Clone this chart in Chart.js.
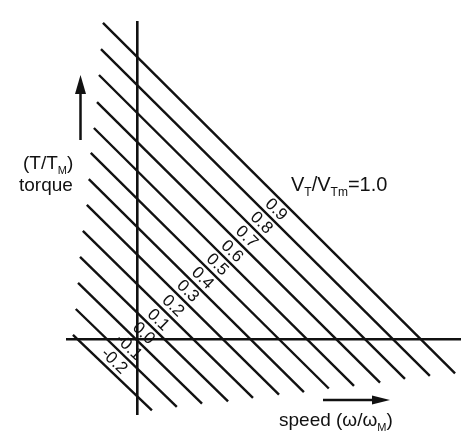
<!DOCTYPE html>
<html><head><meta charset="utf-8">
<script src="https://cdn.jsdelivr.net/npm/chart.js@4.4.0/dist/chart.umd.min.js"></script>
<style>html,body{margin:0;padding:0;background:#fff;}#wrap{width:474px;height:440px;}</style>
</head><body><div id="wrap"><canvas id="c" width="474" height="440"></canvas></div>
<script>
// Armature voltage ratio for each torque-speed line
const lineValues = [1.0, 0.9, 0.8, 0.7, 0.6, 0.5, 0.4, 0.3, 0.2, 0.1, 0.0, -0.1, -0.2];
const lineLabels = ["1.0", "0.9", "0.8", "0.7", "0.6", "0.5", "0.4", "0.3", "0.2", "0.1", "0.0", "-0.1", "-0.2"];
// Endpoints of each line (speed ω/ωM, torque T/TM)
const speedStart  = [-0.120, -0.127, -0.134, -0.141, -0.152, -0.163, -0.170, -0.177, -0.191, -0.201, -0.208, -0.216, -0.226];
const torqueStart = [1.121, 1.028, 0.936, 0.840, 0.748, 0.660, 0.567, 0.475, 0.383, 0.291, 0.199, 0.106, 0.014];
const speedEnd    = [1.124, 1.035, 0.947, 0.859, 0.767, 0.678, 0.590, 0.502, 0.410, 0.322, 0.230, 0.141, 0.053];
const torqueEnd   = [-0.122, -0.131, -0.142, -0.155, -0.167, -0.176, -0.189, -0.198, -0.209, -0.222, -0.230, -0.241, -0.254];
// Axis ranges
const speedRange = [-0.247, 1.145];
const torqueRange = [-0.270, 1.124];

const INK = '#111';
const FONT = "'Liberation Sans', Arial, Helvetica, sans-serif";

const datasets = lineValues.map((v, i) => ({
  label: lineLabels[i],
  data: [{x: speedStart[i], y: torqueStart[i]}, {x: speedEnd[i], y: torqueEnd[i]}],
  showLine: true,
  borderColor: INK,
  backgroundColor: INK,
  borderWidth: 2.4,
  pointRadius: 0,
  pointHoverRadius: 0,
  clip: false
}));

function drawRich(ctx, parts, x, y, size) {
  let cx = x;
  for (const p of parts) {
    const fs = p.sub ? Math.round(size * 0.6) : size;
    ctx.font = fs + 'px ' + FONT;
    ctx.fillText(p.t, cx, p.sub ? y + size * 0.27 : y);
    cx += ctx.measureText(p.t).width;
  }
}

const annotate = {
  id: 'annotate',
  afterDatasetsDraw(chart) {
    const ctx = chart.ctx;
    const xs = chart.scales.x, ys = chart.scales.y;
    ctx.save();
    ctx.fillStyle = INK;
    ctx.strokeStyle = INK;
    // line labels along each line
    ctx.font = '17px ' + FONT;
    ctx.textAlign = 'center';
    ctx.textBaseline = 'middle';
    lineValues.forEach((v, i) => {
      if (i === 0) return;
      const x1 = xs.getPixelForValue(speedStart[i]), y1 = ys.getPixelForValue(torqueStart[i]);
      const x2 = xs.getPixelForValue(speedEnd[i]), y2 = ys.getPixelForValue(torqueEnd[i]);
      const ang = Math.atan2(y2 - y1, x2 - x1);
      const fx = 0.52 * v;
      const t = (fx - speedStart[i]) / (speedEnd[i] - speedStart[i]);
      const px = x1 + t * (x2 - x1), py = y1 + t * (y2 - y1);
      const off = 9.4;
      const nx = Math.sin(ang) * off, ny = -Math.cos(ang) * off;
      ctx.save();
      ctx.translate(px + nx, py + ny);
      ctx.rotate(ang);
      ctx.fillText(lineLabels[i], 0, 0);
      ctx.restore();
    });
    // text labels
    ctx.textAlign = 'left';
    ctx.textBaseline = 'alphabetic';
    drawRich(ctx, [{t: '(T/T'}, {t: 'M', sub: true}, {t: ')'}], 23, 169, 19);
    drawRich(ctx, [{t: 'torque'}], 19, 191, 19);
    drawRich(ctx, [{t: 'V'}, {t: 'T', sub: true}, {t: '/V'}, {t: 'Tm', sub: true}, {t: '=1.0'}], 291, 191, 20);
    drawRich(ctx, [{t: 'speed (\u03C9/\u03C9'}, {t: 'M', sub: true}, {t: ')'}], 279, 426, 19);
    // arrows
    ctx.lineWidth = 2.5;
    ctx.beginPath(); ctx.moveTo(80.5, 140); ctx.lineTo(80.5, 90); ctx.stroke();
    ctx.beginPath(); ctx.moveTo(80.5, 75); ctx.lineTo(75, 94); ctx.lineTo(86, 94); ctx.closePath(); ctx.fill();
    ctx.beginPath(); ctx.moveTo(323, 400); ctx.lineTo(375, 400); ctx.stroke();
    ctx.beginPath(); ctx.moveTo(390, 400); ctx.lineTo(372, 395.5); ctx.lineTo(372, 404.5); ctx.closePath(); ctx.fill();
    ctx.restore();
  }
};

new Chart(document.getElementById('c'), {
  type: 'scatter',
  data: {datasets},
  options: {
    responsive: false,
    animation: false,
    devicePixelRatio: 1,
    layout: {padding: {left: 67, right: 13, top: 22, bottom: 25}},
    plugins: {legend: {display: false}, tooltip: {enabled: false}, title: {display: false}},
    scales: {
      x: {
        type: 'linear', min: speedRange[0], max: speedRange[1],
        position: {y: 0},
        grid: {display: false, drawTicks: false, lineWidth: 0},
        ticks: {display: false},
        border: {display: true, color: INK, width: 2.6}
      },
      y: {
        type: 'linear', min: torqueRange[0], max: torqueRange[1],
        position: {x: 0},
        grid: {display: false, drawTicks: false, lineWidth: 0},
        ticks: {display: false},
        border: {display: true, color: INK, width: 2.6}
      }
    }
  },
  plugins: [annotate]
});
</script></body></html>
